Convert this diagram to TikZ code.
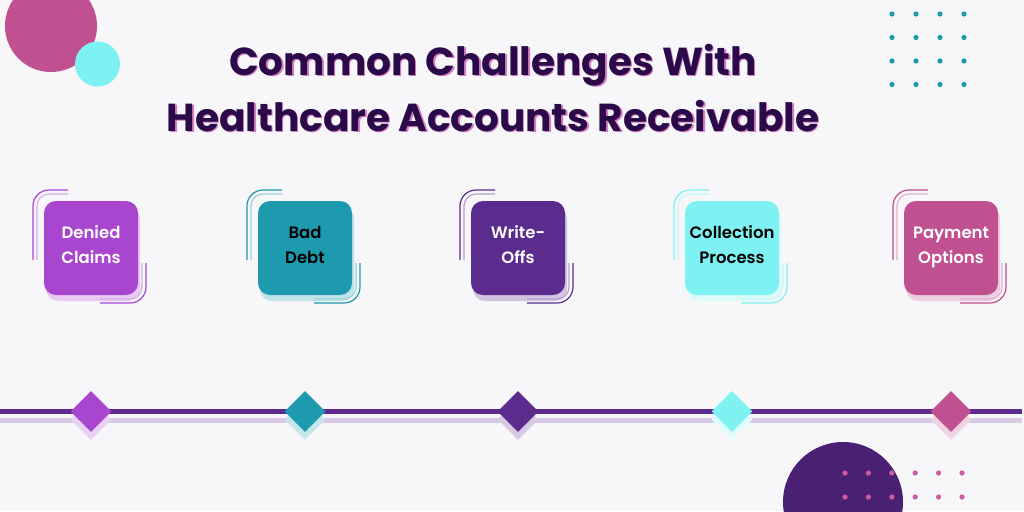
\documentclass[tikz,border=0pt]{standalone}
\usepackage{fontspec}
\setmainfont{Poppins}
\newfontfamily\cardfont{Poppins SemiBold}
\usetikzlibrary{shapes.geometric,shadows}
\definecolor{bgcol}{HTML}{F7F6F9}
\definecolor{titlecol}{HTML}{2A0A48}
\definecolor{titleshade}{HTML}{D67DC2}
\definecolor{cA}{HTML}{A846D0}
\definecolor{cB}{HTML}{1E9AAE}
\definecolor{cC}{HTML}{5B2C8E}
\definecolor{cD}{HTML}{7EF2F2}
\definecolor{cE}{HTML}{C0508F}
\definecolor{lineA}{HTML}{5A2A8C}
\definecolor{lineB}{HTML}{D9C9E5}
\definecolor{blobcol}{HTML}{4A2074}
\definecolor{dotpink}{HTML}{D05AA0}
\tikzset{
  card/.style={rounded corners=12pt,minimum size=94pt,inner sep=0pt,align=center,
    font=\fontsize{16.5}{25}\cardfont,text height=34pt,text depth=4pt,text=white,fill=#1,
    drop shadow={shadow xshift=2pt,shadow yshift=-6pt,fill=#1!28,opacity=1}},
  gem/.style={diamond,minimum width=41pt,minimum height=41pt,inner sep=0pt,fill=#1,
    drop shadow={shadow xshift=0pt,shadow yshift=-8pt,fill=#1!25,opacity=1}},
  trim/.style={line width=1.2pt,rounded corners=16pt},
  heading/.style={align=center,font=\fontsize{39}{56}\selectfont\bfseries,
    text height=98pt,text depth=10pt}
}
\begin{document}
\begin{tikzpicture}[x=1pt,y=-1pt]
\fill[bgcol] (0,0) rectangle (1024,511);
\useasboundingbox (0,0) rectangle (1024,511);
% background blobs and dots
\fill[cE] (51,26) circle (46);
\fill[cD] (97.5,64) circle (22.5);
\foreach \i in {0,...,3}
  \foreach \j in {0,...,3}
    \fill[cB] (892+24*\i,14+23.5*\j) circle (2.6);
\fill[blobcol] (843,502) circle (60);
\foreach \i in {0,...,5}
  \foreach \j in {0,1}
    \fill[dotpink] (845+23.4*\i,473+24*\j) circle (2.6);
% title
\node[heading,titleshade] (title-shade) at (494.5,88.5)
  {Common Challenges With\\Healthcare Accounts Receivable};
\node[heading,titlecol] (title) at (493,87)
  {Common Challenges With\\Healthcare Accounts Receivable};
% cards
\node[card=cA] (denied) at (91,248) {Denied\\Claims};
\node[card=cB,text=black] (baddebt) at (305,248) {Bad\\Debt};
\node[card=cC] (writeoffs) at (518,248) {Write-\\Offs};
\node[card=cD,text=black] (collection) at (732,248) {Collection\\Process};
\node[card=cE] (payment) at (951,248) {Payment\\Options};
\foreach \n/\c in {denied/cA,baddebt/cB,writeoffs/cC,collection/cD,payment/cE}{
  \begin{scope}[shift={(\n.center)}]
    \draw[trim,\c] (-58,12) |- (-23,-58);
    \draw[trim,\c!45,rounded corners=12pt] (-54,12) |- (-23,-54);
    \draw[trim,\c] (55,15) |- (9,55);
    \draw[trim,\c!45,rounded corners=12pt] (51,15) |- (9,51);
  \end{scope}
}
% timeline
\coordinate (tl-start) at (0,411.5);
\coordinate (tl-end) at (1022,411.5);
\draw[lineB,line width=4.5pt] ([yshift=-9pt]tl-start) -- ([yshift=-9pt]tl-end);
\draw[lineA,line width=4.5pt] (tl-start) -- (tl-end);
\foreach \n/\c in {denied/cA,baddebt/cB,writeoffs/cC,collection/cD,payment/cE}
  \node[gem=\c] (\n-gem) at (\n.center |- tl-start) {};
\end{tikzpicture}
\end{document}
